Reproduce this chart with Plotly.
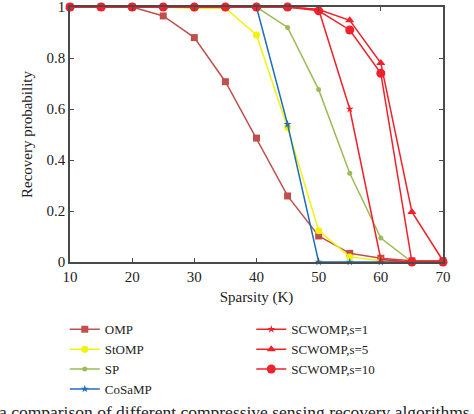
import plotly.graph_objects as go

K = [10, 15, 20, 25, 30, 35, 40, 45, 50, 55, 60, 65, 70]
omp = [1.0, 1.0, 1.0, 0.965, 0.88, 0.707, 0.486, 0.259, 0.102, 0.034, 0.015, 0.005, 0.005]
stomp = [1.0, 1.0, 1.0, 1.0, 0.995, 0.995, 0.89, 0.527, 0.123, 0.02, 0.005, 0.0, 0.0]
sp = [1.0, 1.0, 1.0, 1.0, 1.0, 1.0, 1.0, 0.92, 0.676, 0.348, 0.094, 0.0, 0.0]
cosamp = [1.0, 1.0, 1.0, 1.0, 1.0, 1.0, 1.0, 0.54, 0.0, 0.0, 0.0, 0.0, 0.0]
scw1 = [1.0, 1.0, 1.0, 1.0, 1.0, 1.0, 1.0, 1.0, 0.99, 0.6, 0.01, 0.0, 0.0]
scw5 = [1.0, 1.0, 1.0, 1.0, 1.0, 1.0, 1.0, 1.0, 0.99, 0.948, 0.78, 0.196, 0.005]
scw10 = [1.0, 1.0, 1.0, 1.0, 1.0, 1.0, 1.0, 1.0, 0.985, 0.91, 0.74, 0.0, 0.0]

serif = "Liberation Serif"
fig = go.Figure()

def add(y, name, color, symbol, size, legend):
    fig.add_trace(go.Scatter(
        x=K, y=y, name=name, mode="lines+markers",
        line=dict(color=color, width=1.5),
        marker=dict(symbol=symbol, size=size, color=color),
        legend=legend, cliponaxis=False))

add(omp, "OMP", "#C0504D", "square", 7, "legend")
add(stomp, "StOMP", "#F2F20A", "circle", 7, "legend")
add(sp, "SP", "#9BBB59", "circle", 5, "legend")
add(cosamp, "CoSaMP", "#1F6FB8", "star", 6, "legend")
add(scw1, "SCWOMP,s=1", "#F0212A", "star", 6, "legend2")
add(scw5, "SCWOMP,s=5", "#F0212A", "triangle-up", 8, "legend2")
add(scw10, "SCWOMP,s=10", "#F0212A", "circle", 9, "legend2")

axis_common = dict(showline=True, linecolor="#4a4a4a", linewidth=1.5, mirror="ticks",
                   ticks="inside", ticklen=4, tickcolor="#4a4a4a", showgrid=False,
                   zeroline=False, ticklabeloverflow="allow",
                   tickfont=dict(family=serif, size=15, color="#222"))

fig.update_xaxes(range=[10, 70], tickvals=[10, 20, 30, 40, 50, 60, 70],
                 title=dict(text="Sparsity (K)", font=dict(family=serif, size=15, color="#222"), standoff=8),
                 **axis_common)
fig.update_yaxes(range=[0, 1], tickvals=[0, 0.2, 0.4, 0.6, 0.8, 1],
                 ticktext=["0", "0.2", "0.4", "0.6", "0.8", "1"],
                 title=dict(text="Recovery probability", font=dict(family=serif, size=15, color="#222"), standoff=10),
                 **axis_common)

legend_common = dict(orientation="v", xanchor="left", yanchor="top", bgcolor="rgba(0,0,0,0)",
                     font=dict(family=serif, size=13, color="#222"), tracegroupgap=0)
fig.update_layout(
    width=474, height=414,
    margin=dict(l=70, r=31, t=7, b=152, autoexpand=False),
    paper_bgcolor="white", plot_bgcolor="white",
    legend=dict(x=-0.014, y=-0.205, **legend_common),
    legend2=dict(x=0.486, y=-0.205, **legend_common),
    annotations=[dict(text="a comparison of different compressive sensing recovery algorithms",
                      xref="paper", yref="paper", x=-0.196, y=-0.54, xanchor="left", yanchor="top",
                      showarrow=False, font=dict(family=serif, size=17.5, color="#222"))],
)

fig.write_html("out.html")
